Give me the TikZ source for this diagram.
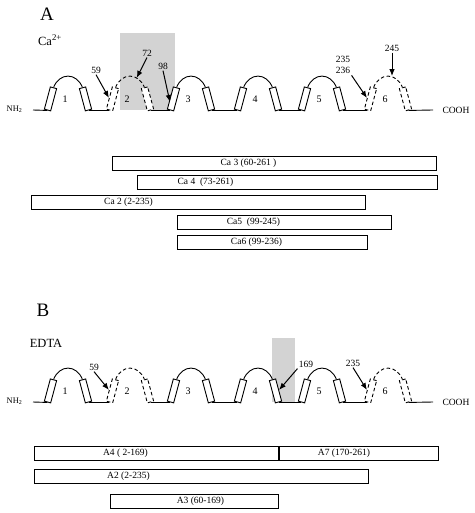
\documentclass[tikz,border=0pt]{standalone}
\usepackage{fontspec}
\setmainfont{Liberation Serif}
\usetikzlibrary{arrows.meta}
\definecolor{cutgrey}{HTML}{D3D3D3}

\begin{document}
\begin{tikzpicture}[
   x=1pt, y=1pt, >={Latex[length=7pt,width=5.5pt]}, line width=0.9pt,
   font=\fontsize{9.5}{11}\selectfont,
   helix/.style = {rectangle, draw, fill=white, minimum width=6.5pt,
                   minimum height=23pt, inner sep=0pt},
   dashloop/.style = {dash pattern=on 3.5pt off 2.5pt},
   dhelix/.style = {helix, dashloop},
   frag/.style = {rectangle, draw, anchor=north west, minimum height=13.5pt, inner sep=0pt},
   num/.style = {inner sep=0pt, font=\fontsize{10}{12}\selectfont},
   site/.style = {inner sep=1pt, align=center, font=\fontsize{9.5}{11.5}\selectfont},
   cut/.style = {->, line width=1pt},
   term/.style = {inner sep=0pt, font=\fontsize{8.5}{10}\selectfont},
   panel/.style = {inner sep=0pt, font=\fontsize{19}{22}\selectfont},
   cond/.style = {inner sep=0pt, font=\fontsize{12.5}{14}\selectfont}]
  \useasboundingbox (0,0) rectangle (474,-513);
  % shaded cleavage regions
  \fill[cutgrey] (120,-33) rectangle (175,-110);
  \fill[cutgrey] (272,-338) rectangle (295,-402);

  \node[panel] (pa) at (47,-14) {A};
  \node[cond] (ca) at (50,-40) {Ca\textsuperscript{2+}};
  \node[panel] (pb) at (43,-310) {B};
  \node[cond] (edta) at (46,-343) {EDTA};

  % six membrane spans, both panels
  \foreach \p/\B in {a/-110, b/-402} {
    \foreach \c/\s/\t [count=\k] in {68/helix/solid, 130/dhelix/dashloop, 191/helix/solid,
                                    258/helix/solid, 322/helix/solid, 388/dhelix/dashloop} {
      \node[\s, rotate=-15] (\p\k-l) at ({\c-17.5}, {\B+11.1}) {};
      \node[\s, rotate=15]  (\p\k-r) at ({\c+17.5}, {\B+11.1}) {};
      \draw[\t] (\p\k-l.north) .. controls +(6,15) and +(-6,15) .. (\p\k-r.north)
            coordinate[pos=0.5] (\p\k-top) coordinate[pos=0.7] (\p\k-m);
      \node[num] (\p\k-n) at ({\c-3}, {\B+11}) {\k};
    }
    \foreach \k [evaluate=\k as \n using int(\k+1)] in {1,...,5}
      \draw (\p\k-r.south) -- (\p\n-l.south);
    \node[term] (\p-nh) at (14.5, {\B+0.5}) {NH\textsubscript{2}};
    \node[term, font=\fontsize{9.5}{11}\selectfont] (\p-co) at (456, \B) {COOH};
    \coordinate (\p-start) at (33, \B);
    \coordinate (\p-end) at (433, \B);
    \draw (\p-start) -- (\p1-l.south);
    \draw (\p6-r.south) -- (\p-end);
  }

  % cleavage sites, Ca2+
  \node[site] (s59a) at (96,-70) {59};
  \node[site] (s72) at (147,-53) {72};
  \node[site] (s98) at (163,-66) {98};
  \node[site] (s235a) at (343,-65) {235\\236};
  \node[site] (s245) at (392,-48) {245};
  \draw[cut] (s59a.south) -- (a2-l.west);
  \draw[cut] (s72.south) -- (a2-m);
  \draw[cut] (s98.south) -- ([yshift=-4pt]a3-l.west);
  \draw[cut] (s235a.south east) -- (a6-l.west);
  \draw[cut] (s245.south) -- (s245.south |- a6-top);

  % cleavage sites, EDTA
  \node[site] (s59b) at (94,-367) {59};
  \node[site] (s169) at (306,-364) {169};
  \node[site] (s235b) at (353,-363) {235};
  \draw[cut] (s59b.south) -- (b2-l.west);
  \draw[cut] (s169.south west) -- (b4-r.east);
  \draw[cut] (s235b.south) -- (b6-l.west);

  % fragments, Ca2+
  \node[frag, minimum width=324pt] (ca3) at (112,-156) {};
  \node (ca3t) at ([xshift=-26pt]ca3.center) {Ca 3 (60-261 )};
  \node[frag, minimum width=300pt] (ca4) at (137,-175) {};
  \node (ca4t) at ([xshift=-82pt]ca4.center) {Ca 4\ \ (73-261)};
  \node[frag, minimum width=334pt] (ca2) at (31,-195) {};
  \node (ca2t) at ([xshift=-70pt]ca2.center) {Ca 2 (2-235)};
  \node[frag, minimum width=214pt] (ca5) at (177,-215) {};
  \node (ca5t) at ([xshift=-31pt]ca5.center) {Ca5\ \ (99-245)};
  \node[frag, minimum width=190pt] (ca6) at (177,-235) {};
  \node (ca6t) at ([xshift=-16pt]ca6.center) {Ca6 (99-236)};

  % fragments, EDTA
  \node[frag, minimum width=244pt] (a4) at (34,-446) {};
  \node (a4t) at ([xshift=-31pt]a4.center) {A4 ( 2-169)};
  \node[frag, minimum width=159pt] (a7) at (279,-446) {};
  \node (a7t) at ([xshift=-15pt]a7.center) {A7 (170-261)};
  \node[frag, minimum width=334pt] (a2) at (34,-469) {};
  \node (a2t) at ([xshift=-73pt]a2.center) {A2 (2-235)};
  \node[frag, minimum width=168pt] (a3) at (110,-494) {};
  \node (a3t) at ([xshift=6pt]a3.center) {A3 (60-169)};
\end{tikzpicture}
\end{document}
